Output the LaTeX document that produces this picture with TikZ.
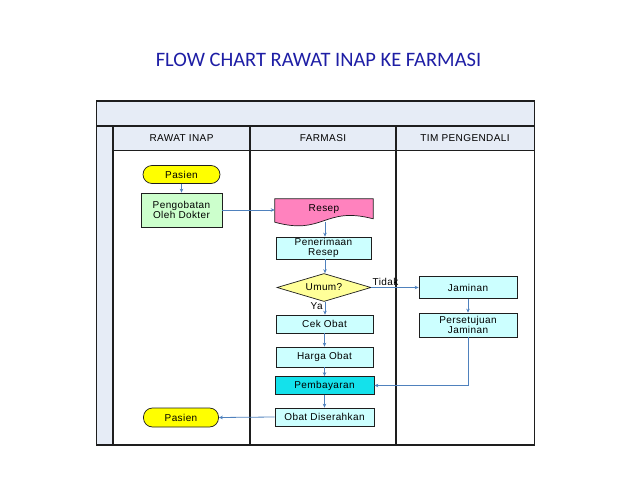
\documentclass[tikz,border=0pt]{standalone}
\usepackage{fontspec}
\setmainfont{Liberation Sans}[LetterSpace=4]
\newfontfamily\titlefont{Carlito}
\usetikzlibrary{shapes.geometric,arrows.meta,calc}
\definecolor{titleblue}{RGB}{30,30,165}
\definecolor{headfill}{RGB}{230,236,246}
\definecolor{framecol}{RGB}{30,30,30}
\definecolor{arrowcol}{RGB}{79,129,189}
\definecolor{termfill}{RGB}{255,255,0}
\definecolor{boxfill}{RGB}{204,255,255}
\definecolor{payfill}{RGB}{20,225,235}
\definecolor{greenfill}{RGB}{204,255,204}
\definecolor{pinkfill}{RGB}{255,130,190}
\definecolor{decfill}{RGB}{255,255,153}
\begin{document}
\begin{tikzpicture}[x=1pt,y=-1pt,
  lbl/.style={font=\fontsize{10}{10.5}\selectfont, text=black},
  nodebase/.style={lbl, draw=framecol, line width=0.7pt, inner sep=0pt, align=center},
  term/.style={nodebase, fill=termfill, rounded corners=9pt, minimum height=18pt},
  procbox/.style={nodebase, fill=boxfill},
  paybox/.style={nodebase, fill=payfill},
  greenbox/.style={nodebase, fill=greenfill},
  decision/.style={nodebase, diamond, fill=decfill, aspect=3.4},
  flow/.style={draw=arrowcol, line width=0.8pt, -{Stealth[length=4pt,width=3.5pt]}},
  frameline/.style={draw=framecol, line width=1.1pt}
]
\useasboundingbox (0,0) rectangle (638,479);
% title
\node[font=\titlefont\fontsize{20.5}{24}\selectfont, text=titleblue] (title) at (318.5,60) {FLOW CHART RAWAT INAP KE FARMASI};
% frame fills
\fill[headfill] (97,101) rectangle (535,150);
\fill[headfill] (97,126) rectangle (113,445);
% frame lines
\draw[frameline] (96.5,101) rectangle (534.5,445);
\draw[draw=framecol, line width=2.5pt] (96.5,126) -- (534.5,126);
\draw[draw=framecol, line width=0.8pt] (113,150) -- (534.5,150);
\draw[frameline] (113,126) -- (113,445);
\draw[frameline] (250,126) -- (250,445);
\draw[frameline] (396,126) -- (396,445);
% column headers
\node[lbl] (h1) at (181.5,138) {RAWAT INAP};
\node[lbl] (h2) at (323,138) {FARMASI};
\node[lbl] (h3) at (465,138) {TIM PENGENDALI};
% nodes
\node[term, minimum width=77pt] (pas1) at (181.5,174.5) {Pasien};
\node[greenbox, minimum width=81pt, minimum height=34pt] (peng) at (181.5,210) {Pengobatan\\Oleh Dokter};
\node[lbl, inner sep=0pt, minimum width=98pt, minimum height=23pt] (resep) at (324,210.5) {};
\draw[draw=framecol, line width=0.7pt, fill=pinkfill]
  (resep.north west) -- (resep.north east) -- ($(resep.north east)+(0,20)$)
  .. controls ($(resep.north west)+(49,7)$) and ($(resep.north west)+(49,37)$) .. (resep.south west) -- cycle;
\node[lbl] (resept) at (324,209.5) {Resep};
\node[procbox, minimum width=95pt, minimum height=22pt] (pen) at (323.5,248) {Penerimaan\\Resep};
\node[decision, minimum width=94pt, minimum height=28pt] (umum) at (324,287.5) {Umum?};
\node[procbox, minimum width=97pt, minimum height=18pt] (cek) at (324.5,324) {Cek Obat};
\node[procbox, minimum width=97pt, minimum height=20pt] (harga) at (324.5,357) {Harga Obat};
\node[paybox, minimum width=99pt, minimum height=18pt] (pemb) at (324.5,385.5) {Pembayaran};
\node[procbox, minimum width=99pt, minimum height=18pt] (obat) at (324.5,417) {Obat Diserahkan};
\node[term, minimum width=75pt, minimum height=19pt] (pas2) at (181,417.5) {Pasien};
\node[procbox, minimum width=98pt, minimum height=22pt] (jam) at (468,287.5) {Jaminan};
\node[procbox, minimum width=98pt, minimum height=24pt] (pers) at (468,325) {Persetujuan\\Jaminan};
% connectors
\draw[flow] (pas1.south) -- (peng.north);
\draw[flow] (peng.east) -- (peng.east -| resep.west);
\draw[flow] ($(resep.south)+(1,0)$) -- ($(pen.north)+(1.5,0)$);
\draw[flow] ($(pen.south)+(1.5,0)$) -- ($(umum.north)+(1,0)$);
\draw[flow] (umum.east) -- node[lbl, above, pos=0.3, inner sep=1.5pt] (tidak) {Tidak} (jam.west);
\draw[flow] ($(umum.south)+(1,0)$) -- node[lbl, left, pos=0.35, inner sep=2pt] (ya) {Ya} ($(cek.north)+(0.5,0)$);
\draw[flow] (cek.south) -- (harga.north);
\draw[flow] (harga.south) -- (pemb.north);
\draw[flow] (pemb.south) -- (obat.north);
\draw[flow] (jam.south) -- (pers.north);
\draw[flow] (pers.south) |- (pemb.east);
\draw[flow] (obat.west) -- (pas2.east);
\end{tikzpicture}
\end{document}
